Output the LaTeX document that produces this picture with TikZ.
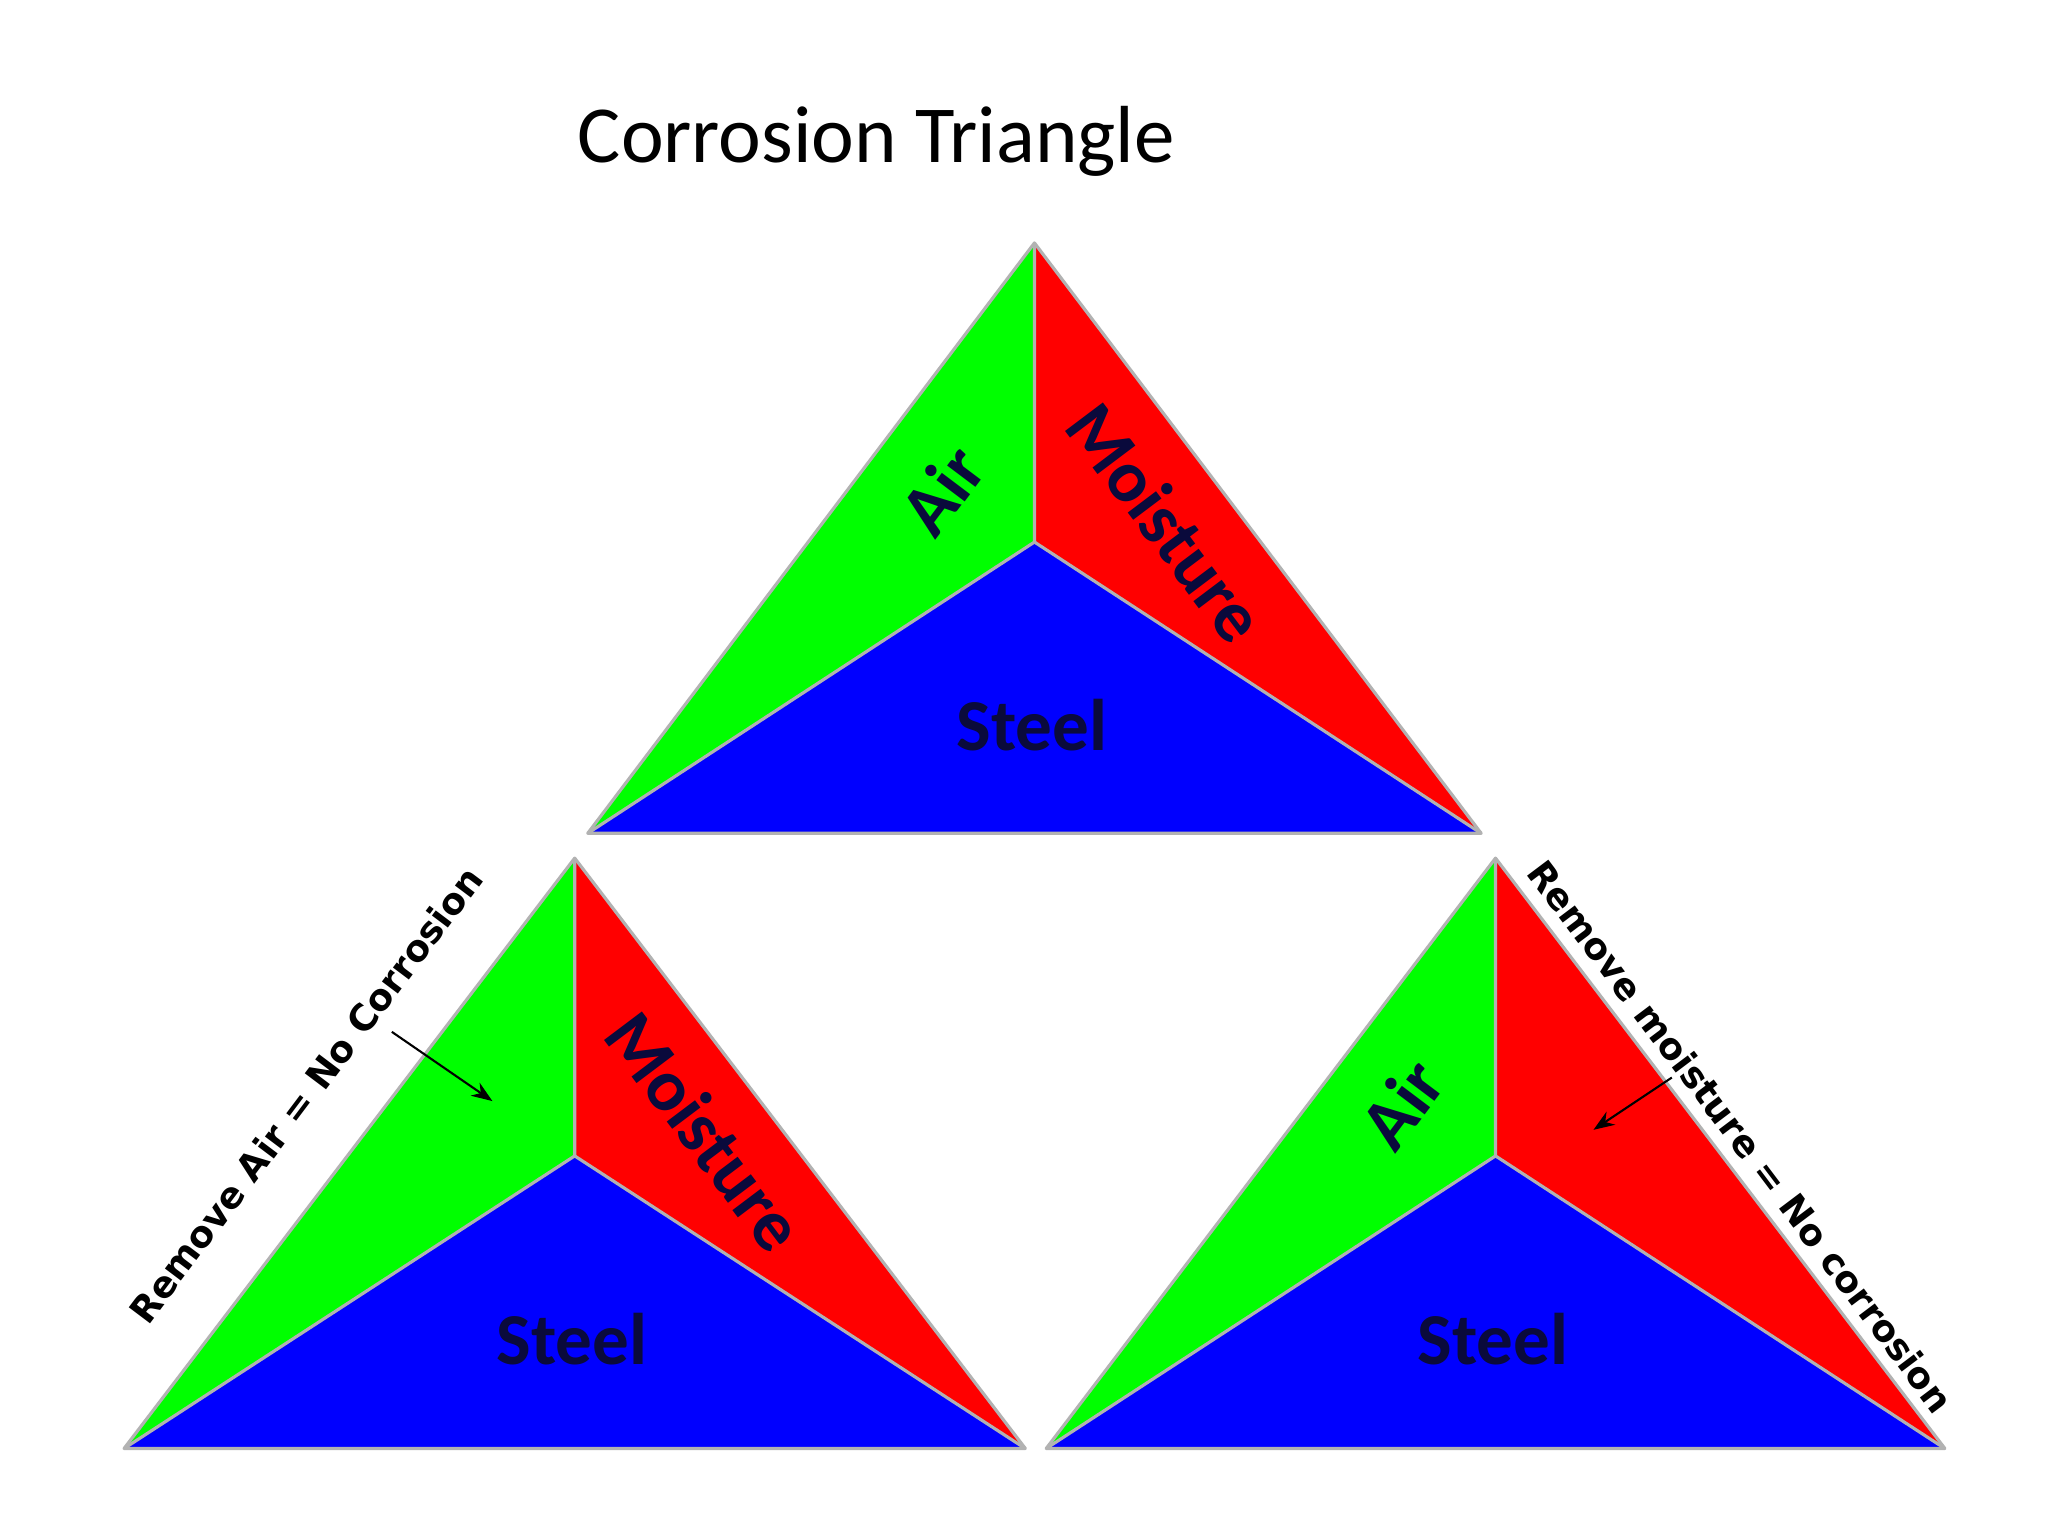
\documentclass[tikz,border=0pt]{standalone}
\usepackage{fontspec}
\setmainfont{Carlito}
\newfontfamily\dvs{DejaVu Sans}
\usetikzlibrary{arrows.meta}
\definecolor{cg}{RGB}{0,255,0}
\definecolor{cr}{RGB}{255,0,0}
\definecolor{cb}{RGB}{0,0,255}
\definecolor{cnavy}{RGB}{10,10,60}
\tikzset{
 face/.style={draw=gray!60, line width=1.2pt, line join=round},
 lbl/.style={font=\fontsize{28}{28}\selectfont\bfseries, text=cnavy, inner sep=0pt},
 side/.style={font=\dvs\fontsize{14}{14}\selectfont\bfseries, text=black, inner sep=0pt},
 arr/.style={-{Stealth[length=8pt,width=6pt]}, line width=0.8pt}
}
\newcommand{\tri}[5]{%
 \coordinate (#1A) at (#2,#3);
 \coordinate (#1L) at (#2-#4,#3-452);
 \coordinate (#1R) at (#2+#4,#3-452);
 \coordinate (#1I) at (#2,#3-#5);
 \fill[cg] (#1A) -- (#1I) -- (#1L) -- cycle;
 \fill[cr] (#1A) -- (#1R) -- (#1I) -- cycle;
 \fill[cb] (#1L) -- (#1I) -- (#1R) -- cycle;
 \draw[face] (#1A) -- (#1I) -- (#1L);
 \draw[face] (#1I) -- (#1R);
 \draw[face] (#1L) -- (#1A) -- (#1R) -- cycle;
}
\begin{document}
\begin{tikzpicture}[x=0.5pt,y=0.5pt]
\useasboundingbox[fill=white] (0,0) rectangle (1568,-1176);
\node[font=\fontsize{31}{31}\selectfont, inner sep=0pt] (title) at (671,-108) {Corrosion Triangle};
\tri{t}{792}{-186}{342}{229}
\tri{l}{440}{-657}{345}{228}
\tri{r}{1145}{-657}{344}{228}
\node[lbl, rotate=53] (tair) at (721,-375) {Air};
\node[lbl, rotate=-53] (tmoi) at (893,-400) {Moisture};
\node[lbl] (tsteel) at (790,-555) {Steel};
\node[lbl, rotate=-53] (lmoi) at (540,-866) {Moisture};
\node[lbl] (lsteel) at (438,-1025) {Steel};
\node[lbl, rotate=53] (rair) at (1073,-845) {Air};
\node[lbl] (rsteel) at (1143,-1025) {Steel};
\node[side, rotate=53] (nl) at (234,-838) {Remove Air = No Corrosion};
\node[side, rotate=-53] (nr) at (1333,-870) {Remove moisture = No corrosion};
\coordinate (la1) at (300,-790); \coordinate (la2) at (377,-843);
\coordinate (ra1) at (1280,-825); \coordinate (ra2) at (1220,-865);
\draw[arr] (la1) -- (la2);
\draw[arr] (ra1) -- (ra2);
\end{tikzpicture}
\end{document}
